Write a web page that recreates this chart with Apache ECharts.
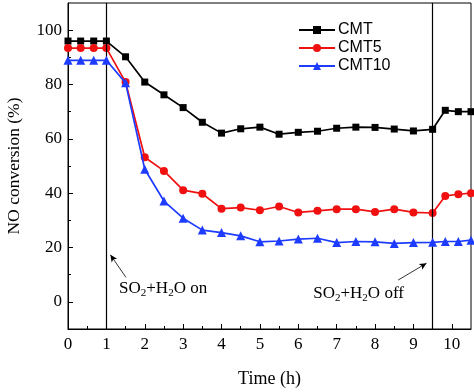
<!DOCTYPE html>
<html><head><meta charset="utf-8">
<script src="https://cdn.jsdelivr.net/npm/echarts@6/dist/echarts.min.js"></script>
<style>html,body{margin:0;padding:0;background:#fff}#c{width:474px;height:392px}</style>
</head><body><div id="c"></div>
<script>
const timeH = [0, 0.33, 0.67, 1, 1.5, 2, 2.5, 3, 3.5, 4, 4.5, 5, 5.5, 6, 6.5, 7, 7.5, 8, 8.5, 9, 9.5, 9.83, 10.17, 10.5];
const cmt   = [96, 96, 96, 96, 90.2, 80.9, 76.2, 71.5, 66.1, 62.1, 63.7, 64.3, 61.7, 62.4, 62.8, 63.9, 64.3, 64.2, 63.6, 62.9, 63.5, 70.5, 70, 70];
const cmt5  = [93.4, 93.4, 93.4, 93.4, 80.9, 53.2, 48.2, 41.1, 39.8, 34.3, 34.7, 33.7, 35.1, 32.9, 33.5, 34.1, 34.1, 33.1, 34.1, 32.9, 32.7, 39, 39.6, 40];
const cmt10 = [88.9, 88.9, 88.9, 88.9, 80.6, 48.8, 37.1, 30.8, 26.4, 25.5, 24.3, 22.1, 22.4, 23.1, 23.4, 21.8, 22.2, 22.1, 21.5, 21.8, 21.9, 22.2, 22.2, 22.7];
const xMajorTicks = [0,1,2,3,4,5,6,7,8,9,10];
const xMinorTicks = [0.5,1.5,2.5,3.5,4.5,5.5,6.5,7.5,8.5,9.5];
const yMajorTicks = [0,20,40,60,80,100];
const yMinorTicks = [10,30,50,70,90];
const eventTimes = [1, 9.5];
const onArrow = [[1.51, 9.0], [1.105, 17.3]];
const offArrow = [[8.6, 8.0], [9.34, 14.2]];
const onLabelPos = [1.33, 5.0];
const offLabelPos = [6.39, 3.2];

const serif = '"Liberation Serif","Times New Roman",serif';
const sans = '"Liberation Sans",Arial,sans-serif';
const pairs = arr => timeH.map((t,i)=>[t, arr[i]]);
const rich = {
  a:{fontFamily:serif,fontSize:17,color:'#000',lineHeight:20},
  s:{fontFamily:serif,fontSize:11,color:'#000',lineHeight:20,padding:[9,0,0,0]}
};
const G = {left:68,right:3,top:3,bottom:63};
const W = 474, H = 392;
const gw = W - G.left - G.right, gh = H - G.top - G.bottom;
const xBase = {type:'value',min:0,max:10.5,axisLine:{show:false,onZero:false},splitLine:{show:false}};
const yBase = {type:'value',min:-10,max:110,axisLine:{show:false,onZero:false},splitLine:{show:false}};

const chart = echarts.init(document.getElementById('c'));
chart.setOption({
  animation:false,
  grid:Object.assign({show:true,borderColor:'#000',borderWidth:1,backgroundColor:'transparent',containLabel:false,outerBoundsMode:'none'}, G),
  xAxis:[
    Object.assign({}, xBase, {
      position:'bottom',
      name:'Time (h)', nameLocation:'middle', nameGap:41,
      nameTextStyle:{fontFamily:serif,fontSize:18,color:'#000'},
      axisLine:{show:true,onZero:false,lineStyle:{color:'#000',width:1}},
      axisTick:{show:true,inside:true,length:5,lineStyle:{color:'#000'},customValues:xMajorTicks},
      axisLabel:{fontFamily:serif,fontSize:17,color:'#000',margin:7,customValues:xMajorTicks}
    }),
    Object.assign({}, xBase, {
      position:'top', offset:-gh,
      axisTick:{show:true,inside:false,length:3,lineStyle:{color:'#000'},customValues:xMinorTicks},
      axisLabel:{show:false}
    })
  ],
  yAxis:[
    Object.assign({}, yBase, {
      position:'left',
      name:'NO conversion (%)', nameLocation:'middle', nameGap:45,
      nameTextStyle:{fontFamily:serif,fontSize:17.5,color:'#000'},
      axisLine:{show:true,onZero:false,lineStyle:{color:'#000',width:1}},
      axisTick:{show:true,inside:true,length:5,lineStyle:{color:'#000'},customValues:yMajorTicks},
      axisLabel:{fontFamily:serif,fontSize:17,color:'#000',margin:6,customValues:yMajorTicks}
    }),
    Object.assign({}, yBase, {
      position:'right', offset:-gw,
      axisTick:{show:true,inside:false,length:3,lineStyle:{color:'#000'},customValues:yMinorTicks},
      axisLabel:{show:false}
    })
  ],
  legend:{
    left:293, top:17, orient:'vertical', itemWidth:36, itemHeight:10, itemGap:2,
    textStyle:{fontFamily:sans,fontSize:16,color:'#000',padding:[0,0,0,-2]},
    data:['CMT','CMT5','CMT10']
  },
  series:[
    {name:'CMT',type:'line',data:pairs(cmt),symbol:'rect',symbolSize:7,
     lineStyle:{color:'#000',width:1.7},itemStyle:{color:'#000'},z:3,
     markLine:{silent:true,symbol:['none','none'],label:{show:false},
       lineStyle:{color:'#000',width:1.2,type:'solid'},
       data:eventTimes.map(t=>({xAxis:t}))}},
    {name:'CMT5',type:'line',data:pairs(cmt5),symbol:'circle',symbolSize:8,
     lineStyle:{color:'#f01010',width:1.7},itemStyle:{color:'#f01010'},z:4,
     markLine:{silent:true,symbol:['none','arrow'],symbolSize:[5,7],label:{show:false},
       lineStyle:{color:'#000',width:0.8,type:'solid'},
       data:[[{coord:onArrow[0]},{coord:onArrow[1]}],[{coord:offArrow[0]},{coord:offArrow[1]}]]}},
    {name:'CMT10',type:'line',data:pairs(cmt10),symbol:'triangle',symbolSize:9,
     lineStyle:{color:'#1e3cff',width:1.7},itemStyle:{color:'#1e3cff'},z:5,
     markPoint:{silent:true,symbol:'circle',symbolSize:0,
       label:{show:true,position:'right',distance:0,rich:rich},
       data:[
         {coord:onLabelPos,label:{formatter:'{a|SO}{s|2}{a|+H}{s|2}{a|O on}',rich:rich}},
         {coord:offLabelPos,label:{formatter:'{a|SO}{s|2}{a|+H}{s|2}{a|O off}',rich:rich}}
       ]}}
  ]
});
</script></body></html>
